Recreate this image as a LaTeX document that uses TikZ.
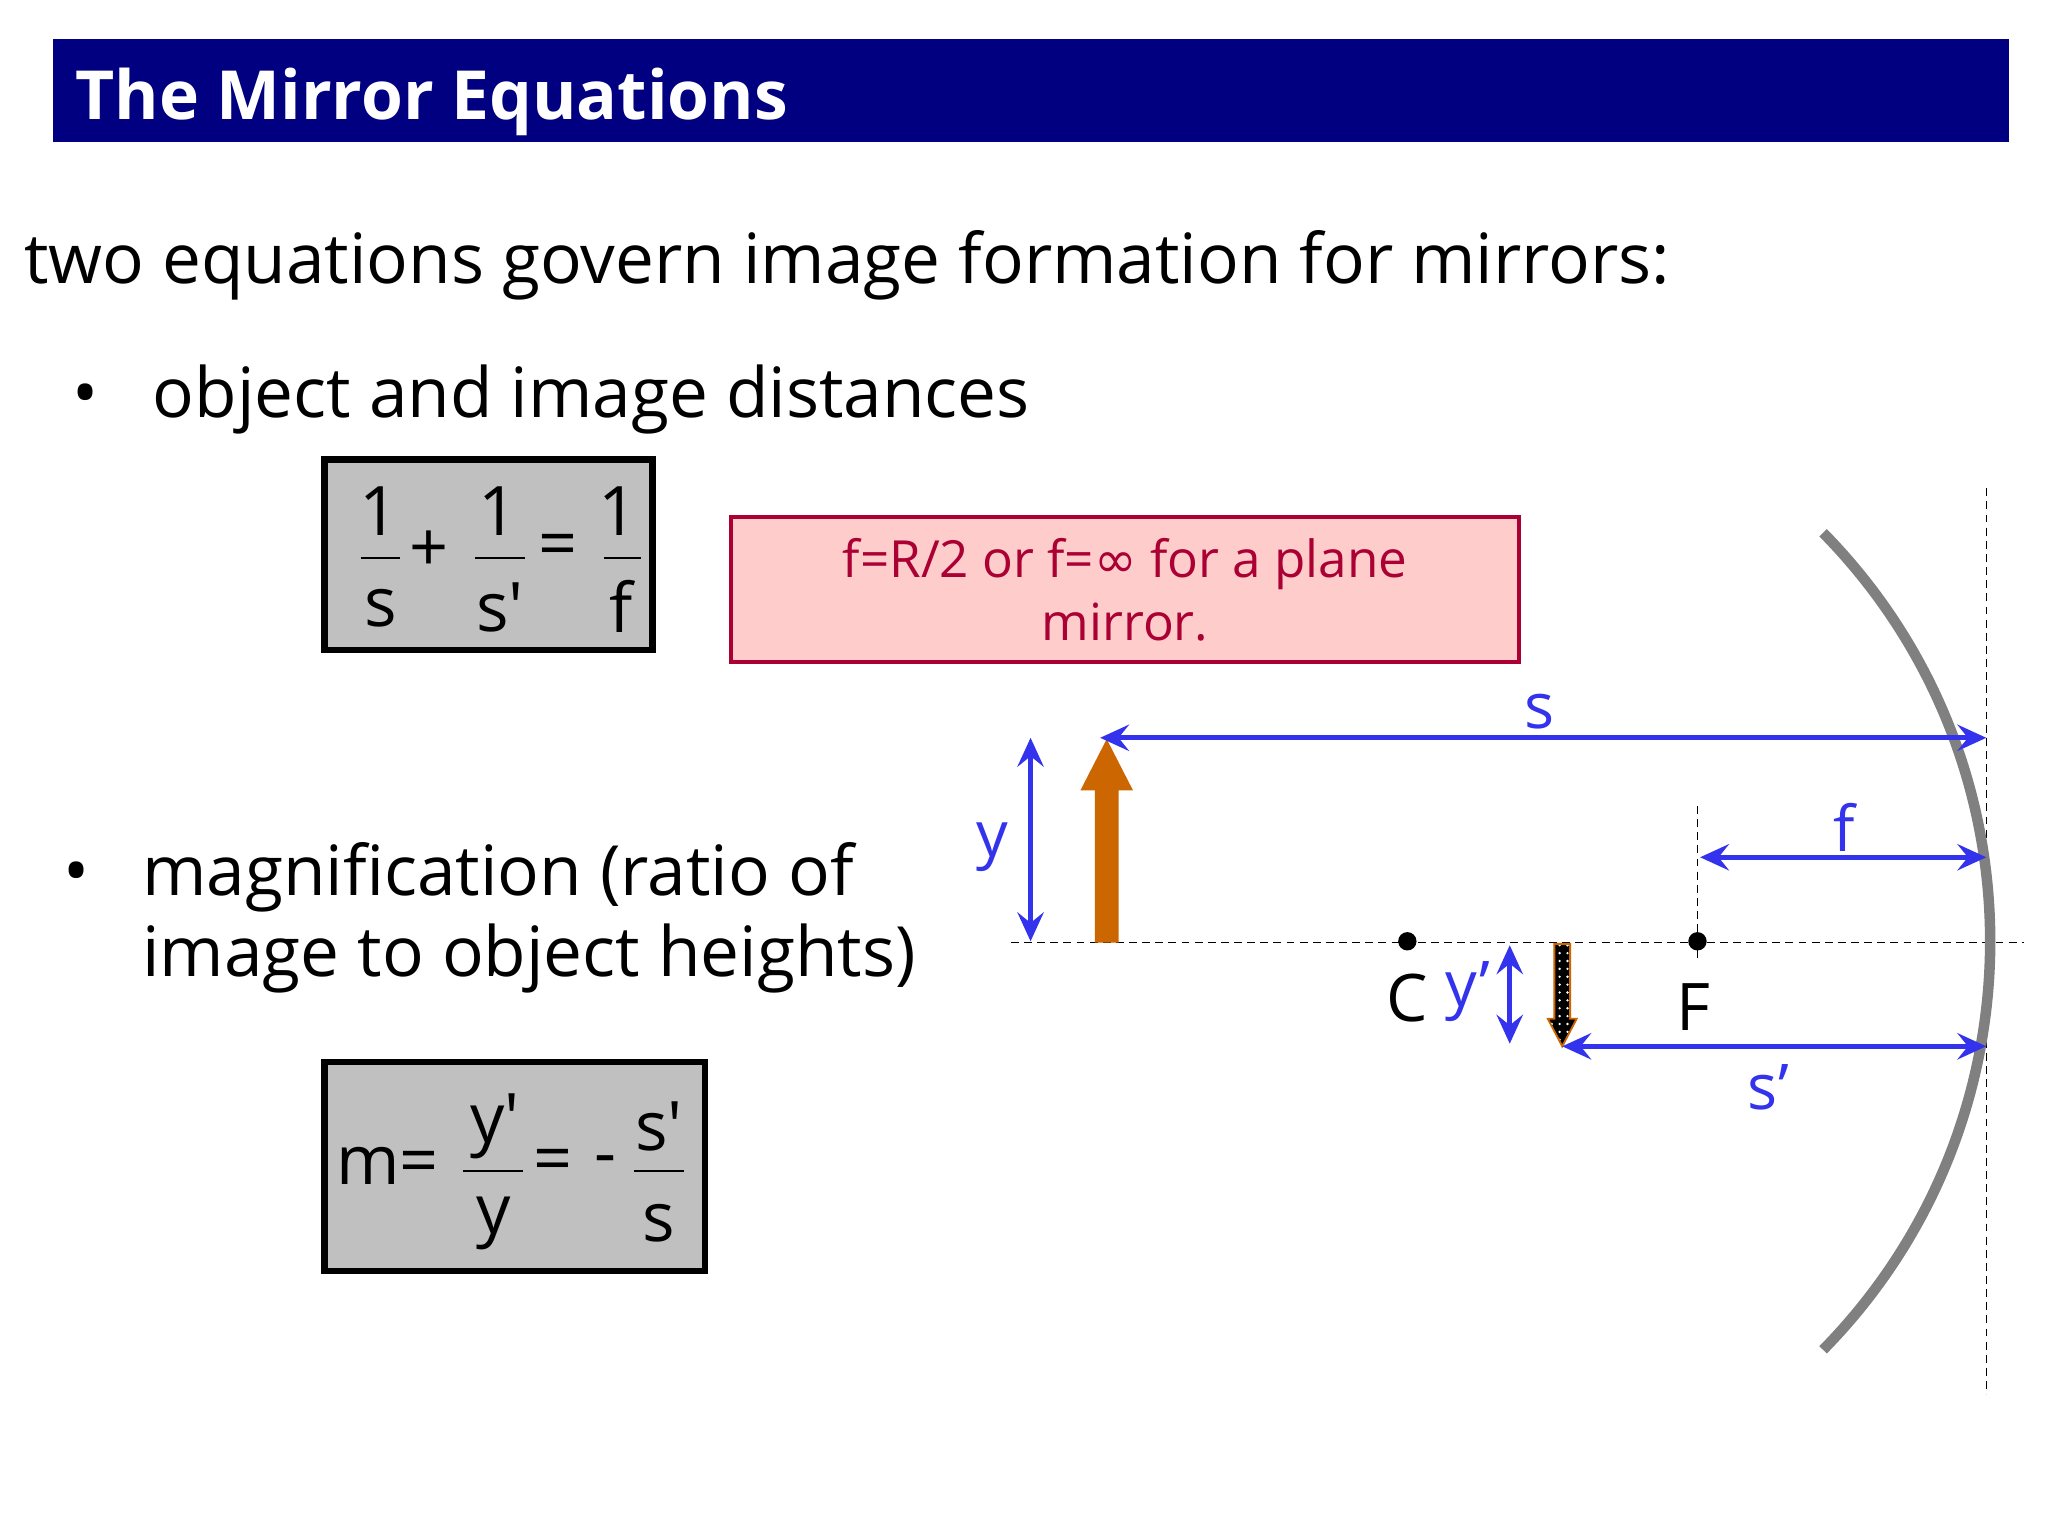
\documentclass[tikz,border=0pt]{standalone}
\usepackage{fontspec}
\setmainfont{Open Sans}
\usetikzlibrary{arrows.meta,patterns}
\begin{document}
\begin{tikzpicture}[x=0.5pt,y=-0.5pt,
  txt/.style={inner sep=0pt,font=\fontsize{26.4}{32}\selectfont},
  eq/.style={inner sep=0pt,font=\fontsize{26}{30}\selectfont},
  lbl/.style={inner sep=0pt,text=dimblue,font=\fontsize{24}{28}\selectfont},
  dim/.style={draw=dimblue,line width=1.8pt,{Stealth[length=11pt,width=10pt,inset=4pt]}-{Stealth[length=11pt,width=10pt,inset=4pt]}},
  axis/.style={dashed,line width=0.6pt,dash pattern=on 3pt off 2pt},
  eqbox/.style={draw=black,line width=2.5pt,fill=eqgray}]
\definecolor{dimblue}{HTML}{3333EE}
\definecolor{eqgray}{HTML}{C0C0C0}
\definecolor{navy}{HTML}{000080}
\definecolor{objorange}{HTML}{CC6600}
\definecolor{pinkfill}{HTML}{FFCCCC}
\definecolor{pinkline}{HTML}{AA0033}
\useasboundingbox (0,0) rectangle (1560,1170);
\fill[white] (0,0) rectangle (1560,1170);
% title
\fill[navy] (40,30) rectangle (1530,108);
\node[anchor=base west,inner sep=0pt,text=white,font=\fontsize{25.8}{32}\selectfont\bfseries] (title) at (57,91) {The Mirror Equations};
% text
\node[txt,anchor=base west] (t1) at (18,216) {two equations govern image formation for mirrors:};
\node[txt,anchor=base west] (b1) at (55,318) {•};
\node[txt,anchor=base west] (t2) at (116,318) {object and image distances};
\node[txt,anchor=base west] (b2) at (48,682) {•};
\node[txt,anchor=base west,align=left] (t3) at (108,682) {magnification (ratio of};
\node[txt,anchor=base west,align=left] (t4) at (108,744) {image to object heights)};
% eq box 1
\draw[eqbox] (247,350) rectangle (497,495);
\node[eq] (n1) at (289,389) {1};
\draw[line width=0.8pt] (275,425) -- (305,425);
\node[eq] (d1) at (290,463) {s};
\node[eq] (p1) at (327,420) {+};
\node[eq] (n2) at (379,389) {1};
\draw[line width=0.8pt] (362,425) -- (400,425);
\node[eq] (d2) at (381,463) {s\textquotesingle};
\node[eq] (e1) at (425,420) {=};
\node[eq] (n3) at (471,389) {1};
\draw[line width=0.8pt] (460,425) -- (488,425);
\node[eq] (d3) at (473,462) {f};
% eq box 2
\draw[eqbox] (247,809) rectangle (537,968);
\node[eq] (m) at (295,888) {m=};
\node[eq] (n4) at (377,858) {y\textquotesingle};
\draw[line width=0.8pt] (353,892) -- (398,892);
\node[eq] (d4) at (376,932) {y};
\node[eq] (e2) at (421,888) {=};
\node[eq] (mi) at (461,888) {-};
\node[eq] (n5) at (502,858) {s\textquotesingle};
\draw[line width=0.8pt] (483,892) -- (521,892);
\node[eq] (d5) at (502,932) {s};
% pink box
\node[draw=pinkline,line width=1.5pt,fill=pinkfill,minimum width=300pt,minimum height=55pt,text=pinkline,align=center,font=\fontsize{19.5}{24}\selectfont] (pink) at (857,449) {f=R/2 or f={\fontspec{DejaVu Sans}∞} for a plane\\mirror.};
% diagram
\coordinate (C) at (1072,717);
\coordinate (F) at (1293,717);
\draw[axis] (770,718) -- (1542,718);
\draw[axis] (1513,372) -- (1513,1062);
\draw[axis] (1293,614) -- (1293,732);
\draw[color=gray,line width=4pt] (C) ++(44.5:444) arc[start angle=44.5,end angle=-44.5,radius=444];
\fill (C) circle (3.5pt);
\fill (F) circle (3.5pt);
\node[txt,font=\fontsize{25}{30}\selectfont] (Cl) at (1072,760) {C};
\node[txt,font=\fontsize{25}{30}\selectfont] (Fl) at (1290,767) {F};
% object arrow
\fill[objorange] (834,718) -- (834,602) -- (823,602) -- (843,563) -- (863,602) -- (852,602) -- (852,718) -- cycle;
% image arrow
\fill[black] (1184,719) -- (1184,776) -- (1179,776) -- (1190,797) -- (1201,776) -- (1196,776) -- (1196,719) -- cycle;
\filldraw[draw=objorange,line width=0.7pt,pattern=dots,pattern color=white] (1184,719) -- (1184,776) -- (1179,776) -- (1190,797) -- (1201,776) -- (1196,776) -- (1196,719) -- cycle;
% dims
\coordinate (sL) at (838,562); \coordinate (sR) at (1513,562);
\draw[dim] (sL) -- (sR);
\node[lbl] (sl) at (1173,542) {s};
\coordinate (fL) at (1295,653); \coordinate (fR) at (1513,653);
\draw[dim] (fL) -- (fR);
\node[lbl] (fl) at (1405,630) {f};
\coordinate (yT) at (785,562); \coordinate (yB) at (785,717);
\draw[dim] (yT) -- (yB);
\node[lbl] (yl) at (756,645) {y};
\coordinate (ypT) at (1150,720); \coordinate (ypB) at (1150,795);
\draw[dim] (ypT) -- (ypB);
\node[lbl] (ypl) at (1118,755) {y’};
\coordinate (spL) at (1190,797); \coordinate (spR) at (1513,797);
\draw[dim] (spL) -- (spR);
\node[lbl] (spl) at (1347,828) {s’};
\end{tikzpicture}
\end{document}
